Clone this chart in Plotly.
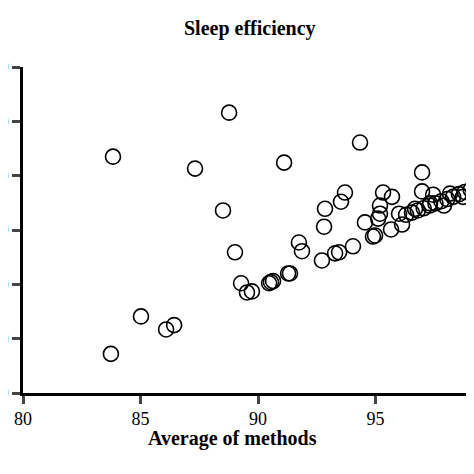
import plotly.graph_objects as go

x_vals = [83.74,83.83,85.02,86.09,86.43,87.32,88.51,88.77,89.02,89.28,89.53,89.74,90.47,90.55,90.64,91.28,91.36,91.11,91.74,91.87,92.72,92.81,92.85,93.28,93.45,93.53,93.70,94.04,94.34,94.55,94.89,94.98,95.11,95.19,95.19,95.32,95.66,95.70,96.0,96.13,96.68,96.98,96.98,97.45,98.17,97.32,97.91,98.72,
          96.3,96.55,96.8,97.05,97.3,97.55,97.8,98.05,98.3,98.55,98.8,99.05]
y_vals = [47.2,83.5,54.1,51.7,52.5,81.3,73.6,91.6,65.9,60.2,58.5,58.7,60.2,60.4,60.6,62.0,62.0,82.4,67.7,66.1,64.4,70.6,73.9,65.7,65.9,75.2,76.9,67.0,86.1,71.4,68.8,69.0,72.1,73.0,74.5,76.9,70.1,76.1,73.0,71.0,73.9,80.6,77.1,76.5,76.7,74.9,74.5,76.1,
          72.8,73.2,73.6,74.0,74.5,74.9,75.3,75.7,76.1,76.6,77.0,77.4]
x_ticks = [80, 85, 90, 95]
y_ticks = [40, 50, 60, 70, 80, 90, 100]

font = "Liberation Serif"
L, T, B = 15, 59, 89
fig = go.Figure(go.Scatter(x=x_vals, y=y_vals, mode="markers",
    marker=dict(symbol="circle-open", size=15, color="black", line=dict(width=1.6)),
    cliponaxis=False))
pw, ph = 474 - L, 474 - T - B
def px(v): return (v - L) / pw
def py(v): return (474 - B - v) / ph
fig.update_layout(
    width=474, height=474, plot_bgcolor="white", paper_bgcolor="white",
    margin=dict(l=L, r=0, t=T, b=B), showlegend=False,
    font=dict(family=font, size=18, color="black"),
    annotations=[
        dict(text="<b>Sleep efficiency</b>", x=px(242), y=py(7), xref="paper", yref="paper",
             showarrow=False, font=dict(size=20, family=font)),
        dict(text="<b>Average of methods</b>", x=px(224), y=py(444), xref="paper", yref="paper",
             showarrow=False, font=dict(size=20, family=font)),
    ])
fig.update_xaxes(range=[80, 99.53], tickvals=x_ticks, showline=True, linecolor="black", linewidth=2.5,
                 ticks="outside", ticklen=8, tickwidth=2.5, showgrid=False, zeroline=False, automargin=False)
fig.update_yaxes(range=[40, 100], tickvals=y_ticks, showline=True, linecolor="black", linewidth=2.5,
                 ticks="outside", ticklen=8, tickwidth=2.5, showgrid=False, zeroline=False, automargin=False)
fig.write_html("out.html")
